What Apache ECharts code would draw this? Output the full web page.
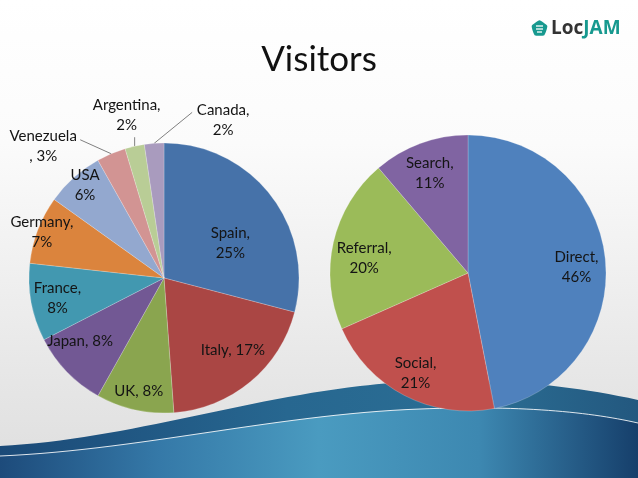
<!DOCTYPE html>
<html><head><meta charset="utf-8">
<script src="https://cdn.jsdelivr.net/npm/echarts@6/dist/echarts.min.js"></script>
<style>html,body{margin:0;padding:0;background:#fff}#c{width:638px;height:478px}</style>
</head><body><div id="c"></div>
<script>
// ---------- data ----------
const chartTitle = 'Visitors';
const countryNames = ['Spain', 'Italy', 'UK', 'Japan', 'France', 'Germany', 'USA', 'Venezuela', 'Argentina', 'Canada'];
const countryValues = [25, 17, 8, 8, 8, 7, 6, 3, 2, 2];
const sourceNames = ['Direct', 'Social', 'Referral', 'Search'];
const sourceValues = [46, 21, 20, 11];

// ---------- text breaks / styles ----------
const countrySeparators = [',\n', ', ', ', ', ', ', ',\n', ',\n', '\n', '\n, ', ',\n', ',\n'];
const sourceSeparators = [',\n', ',\n', ',\n', ',\n'];
const countryColors = ['#4672a9', '#aa4644', '#8aa54f', '#725894', '#4298b0', '#db843d', '#93a8cf', '#d29493', '#b9cd96', '#a99bbe'];
const sourceColors = ['#4f81bd', '#c0504d', '#9bbb59', '#8064a2'];
// radial position of inside labels as fraction of radius; null = outside label with leader line
const countryLabelRadius = [0.58, 0.74, 0.84, 0.79, 0.81, 0.97, 0.91, null, null, null];
const sourceLabelRadius = [0.79, 0.8, 0.75, 0.78];
// small nudges of inside labels (px), like Excel's "best fit"
const countryLabelNudge = [[2, 15], [3, -7], [0, 0], [-5, -13], [4, 0], [3, 2], [5, 1], null, null, null];
const sourceLabelNudge = [[-3, 5], [0, 0], [0, 9], [0, 4]];

const FONT = 'Lato';
const FONT_SIZE = 15;
const LINE_H = 20;
const LABEL_COLOR = '#141414';
const leftPie = { center: [164, 278], r: 135 };
const rightPie = { center: [468, 273], r: 138 };

function labelText(names, values, seps, i) {
  return names[i] + seps[i] + values[i] + '%';
}

function mainSeries(pie, names, values, seps, colors, fracs, layoutFn) {
  return {
    type: 'pie', center: pie.center, radius: [0, pie.r], startAngle: 90, clockwise: true,
    animation: false, silent: true, avoidLabelOverlap: false, z: 2,
    itemStyle: { borderColor: 'rgba(255,255,255,0.35)', borderWidth: 0.6 },
    labelLine: { show: true, length: 12, length2: 24, smooth: false,
      lineStyle: { color: '#808080', width: 1 } },
    labelLayout: layoutFn || undefined,
    data: names.map((n, i) => ({
      name: n, value: values[i],
      itemStyle: { color: colors[i] },
      label: fracs[i] == null ? {
        show: true, position: 'outside', color: LABEL_COLOR, fontFamily: FONT, fontSize: FONT_SIZE,
        lineHeight: LINE_H, formatter: () => labelText(names, values, seps, i)
      } : { show: false },
      labelLine: { show: fracs[i] == null }
    }))
  };
}

function labelOverlay(pie, names, values, seps, idx, frac, nudge) {
  return {
    type: 'pie', center: pie.center, radius: [(2 * frac - 1) * pie.r, pie.r], startAngle: 90,
    animation: false, silent: true, avoidLabelOverlap: false, z: 3,
    itemStyle: { color: 'rgba(0,0,0,0)', borderWidth: 0 },
    labelLine: { show: false },
    labelLayout: (p) => (p.dataIndex === idx && nudge) ? { dx: nudge[0], dy: nudge[1] } : {},
    data: names.map((n, i) => ({
      name: n, value: values[i],
      label: i === idx ? {
        show: true, position: 'inside', color: LABEL_COLOR, fontFamily: FONT, fontSize: FONT_SIZE,
        lineHeight: LINE_H, formatter: () => labelText(names, values, seps, i)
      } : { show: false }
    }))
  };
}

// leader-line placement for the three small country slices
function countryLayout(p) {
  const pts = p.labelLinePoints;
  if (!pts) return {};
  const p0 = pts[0];
  if (p.dataIndex === 8) { // Argentina: label above a short vertical leader
    const end = [p0[0], p0[1] - 9];
    return { x: p0[0] - 8, y: p0[1] - 11, align: 'center', verticalAlign: 'bottom',
      labelLinePoints: [p0, end, end] };
  }
  if (p.dataIndex === 9) { // Canada: label up-right
    const end = [p0[0] + 38, p0[1] - 31];
    return { x: p0[0] + 69, y: p0[1] - 23, align: 'center', verticalAlign: 'middle',
      labelLinePoints: [p0, end, end] };
  }
  if (p.dataIndex === 7) { // Venezuela: straight leader to the left
    const end = [p0[0] - 31, p0[1] - 14];
    return { x: p0[0] - 68, y: p0[1] - 8, align: 'center', verticalAlign: 'middle',
      labelLinePoints: [p0, end, end] };
  }
  return {};
}

const series = [
  mainSeries(leftPie, countryNames, countryValues, countrySeparators, countryColors, countryLabelRadius, countryLayout),
  mainSeries(rightPie, sourceNames, sourceValues, sourceSeparators, sourceColors, sourceLabelRadius.map(() => 0), null)
];
countryLabelRadius.forEach((f, i) => { if (f != null) series.push(labelOverlay(leftPie, countryNames, countryValues, countrySeparators, i, f, countryLabelNudge[i])); });
sourceLabelRadius.forEach((f, i) => { series.push(labelOverlay(rightPie, sourceNames, sourceValues, sourceSeparators, i, f, sourceLabelNudge[i])); });

// ---------- decoration (slide background, wave, logo) ----------
const W = 638, H = 478;
function bez(p0, p1, p2, p3, n) {
  const out = [];
  for (let k = 0; k <= n; k++) {
    const t = k / n, u = 1 - t;
    out.push([u*u*u*p0[0] + 3*u*u*t*p1[0] + 3*u*t*t*p2[0] + t*t*t*p3[0],
              u*u*u*p0[1] + 3*u*u*t*p1[1] + 3*u*t*t*p2[1] + t*t*t*p3[1]]);
  }
  return out;
}
const waveTop = bez([0, 446], [120, 440], [240, 400], [360, 386], 30)
  .concat(bez([360, 386], [440, 377], [540, 378], [638, 400], 30).slice(1));
const waveLine = bez([0, 456], [140, 450], [280, 414], [420, 409], 30)
  .concat(bez([420, 409], [520, 405], [590, 412], [638, 423], 30).slice(1));
const pent = [];
for (let k = 0; k < 5; k++) {
  const a = (-90 + 72 * k) * Math.PI / 180;
  pent.push([539.5 + 8.2 * Math.cos(a), 28.5 + 8.2 * Math.sin(a)]);
}

const graphic = [
  { type: 'rect', z: -100, shape: { x: 0, y: 0, width: W, height: H },
    style: { fill: { type: 'linear', x: 0, y: 0, x2: 0, y2: 1, colorStops: [
      { offset: 0, color: '#ffffff' }, { offset: 0.3, color: '#fbfbfb' },
      { offset: 0.8, color: '#e6e6e6' }, { offset: 1, color: '#dedede' }] } } },
  { type: 'polygon', z: -60, shape: { points: waveTop.concat([[W, H], [0, H]]) },
    style: { fill: { type: 'linear', x: 0, y: 0, x2: 1, y2: 0, colorStops: [
      { offset: 0, color: '#1b4a78' }, { offset: 0.45, color: '#276790' },
      { offset: 0.75, color: '#2b6e94' }, { offset: 1, color: '#23587f' }] } } },
  { type: 'polygon', z: -50, shape: { points: waveLine.concat([[W, H], [0, H]]) },
    style: { fill: { type: 'linear', x: 0, y: 0, x2: 1, y2: 0, colorStops: [
      { offset: 0, color: '#1d4b7b' }, { offset: 0.25, color: '#3579a8' },
      { offset: 0.5, color: '#4a9bc0' }, { offset: 0.75, color: '#3d88b1' }, { offset: 1, color: '#163f6b' }] } } },
  { type: 'polyline', z: -49, shape: { points: waveLine },
    style: { stroke: 'rgba(255,255,255,0.85)', lineWidth: 1, fill: null } },
  { type: 'polygon', z: 10, shape: { points: pent, smooth: 0.15 }, style: { fill: '#18998f' } },
  { type: 'line', z: 11, shape: { x1: 536, y1: 26, x2: 543, y2: 26 }, style: { stroke: '#fff', lineWidth: 1.3 } },
  { type: 'line', z: 11, shape: { x1: 536, y1: 29, x2: 543, y2: 29 }, style: { stroke: '#fff', lineWidth: 1.3 } },
  { type: 'line', z: 11, shape: { x1: 537, y1: 32, x2: 542, y2: 32 }, style: { stroke: '#fff', lineWidth: 1.3 } },
  { type: 'text', z: 10, x: 551, y: 29, style: {
      text: '{a|Loc}{b|JAM}', verticalAlign: 'middle', align: 'left',
      rich: { a: { fill: '#333333', fontFamily: 'Open Sans', fontWeight: 'bold', fontSize: 19 },
              b: { fill: '#17998f', fontFamily: 'Open Sans', fontWeight: 'bold', fontSize: 19 } } } }
];

const chart = echarts.init(document.getElementById('c'), null, { renderer: 'canvas' });
chart.setOption({
  animation: false,
  title: { text: chartTitle, left: 'center', top: 37,
    textStyle: { fontFamily: FONT, fontSize: 35, fontWeight: 'normal', color: '#111111' } },
  graphic: graphic,
  series: series
});
</script>
</body></html>
